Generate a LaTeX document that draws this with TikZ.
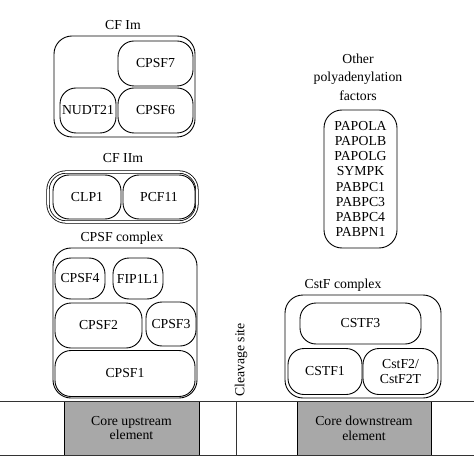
\documentclass[tikz,border=0pt]{standalone}
\usepackage{fontspec}
\setmainfont{Liberation Serif}
\definecolor{elemgray}{HTML}{A8A8A8}
\tikzset{
    box/.style={
        draw=black,
        line width=0.9bp,
        rounded corners=16bp,
        inner sep=0pt,
        align=center
    },
    outerbox/.style={box, rounded corners=18bp},
    element/.style={
        draw=black,
        line width=0.9bp,
        fill=elemgray,
        inner sep=0pt,
        align=center
    }
}

\begin{document}
\begin{tikzpicture}[
  x=1bp, y=-1bp,
  every node/.style={font=\fontsize{13.8}{14.8}\selectfont}
]
\useasboundingbox (0,0) rectangle (474,474);

% CF Im:
\node (cfilab) at (123,25) {CF Im};
\node [outerbox, minimum width=141bp, minimum height=101bp] (cfi) at (124.5,86.5) {};
\node [box, minimum width=75bp, minimum height=45bp] (cpsf7) at (155.5,63.5) {CPSF7};
\node [box, minimum width=75bp, minimum height=45bp] (cpsf6) at (155.5,110.5) {CPSF6};
\node [box, minimum width=56bp, minimum height=45bp] (nudt21) at (88,110.5) {NUDT21};

% CF IIm:
\node (cfiilab) at (123,158) {CF IIm};
\node [outerbox, double, double distance=1.6bp, line width=0.8bp,
       minimum width=149bp, minimum height=50bp] (cfii) at (122.5,197) {};
\node [box, minimum width=68bp, minimum height=44bp] (clp1) at (87,197) {CLP1};
\node [box, minimum width=72bp, minimum height=44bp] (pcf11) at (159,197) {PCF11};

% CPSF complex:
\node (cpsflab) at (122,238) {CPSF complex};
\node [outerbox, minimum width=144bp, minimum height=150bp] (cpsf) at (125,323) {};
\node [box, minimum width=50bp, minimum height=41bp] (cpsf4) at (80,278.5) {CPSF4};
\node [box, minimum width=50bp, minimum height=41bp] (fip1l1) at (138,278.5) {FIP1L1};
\node [box, minimum width=87bp, minimum height=45bp] (cpsf2) at (98.5,325.5) {CPSF2};
\node [box, minimum width=50bp, minimum height=44bp] (cpsf3) at (171,324) {CPSF3};
\node [box, minimum width=140bp, minimum height=46bp] (cpsf1) at (125,373.5) {CPSF1};

% other factors:
\node [align=center, font=\fontsize{13.8}{18.5}\selectfont] (otherlab) at (358,77) {Other\\polyadenylation\\factors};
\node [box, rounded corners=18bp, minimum width=73bp, minimum height=138bp,
       font=\fontsize{13.8}{15.2}\selectfont] (other) at (360.5,179)
  {PAPOLA\\PAPOLB\\PAPOLG\\SYMPK\\PABPC1\\PABPC3\\PABPC4\\PABPN1};

% CstF complex:
\node (cstflab) at (343,285) {CstF complex};
\node [outerbox, minimum width=156bp, minimum height=103bp] (cstf) at (363,346.5) {};
\node [box, minimum width=121bp, minimum height=41bp] (cstf3) at (360.5,323.5) {CSTF3};
\node [box, minimum width=74bp, minimum height=46bp] (cstf1) at (325,371.5) {CSTF1};
\node [box, minimum width=75bp, minimum height=46bp] (cstf2) at (400.5,371.5) {CstF2/\\CstF2T};

% RNA strand and elements:
\node [element, minimum width=135bp, minimum height=54bp] (upstream) at (131.5,428) {Core upstream\\element};
\node [element, minimum width=134bp, minimum height=54bp] (downstream) at (364,428) {Core downstream\\element};
\draw [line width=0.9bp, black!80] (0,401) -- (474,401);
\draw [line width=0.9bp, black!80] (0,455) -- (474,455);
\coordinate (cleavetop) at (236,401);
\coordinate (cleavebot) at (236,455);
\draw [line width=0.9bp, black!80] (cleavetop) -- (cleavebot);
\node [rotate=90, anchor=west, inner sep=0pt] (cleavage) at (241,397) {Cleavage site};

\end{tikzpicture}
\end{document}
